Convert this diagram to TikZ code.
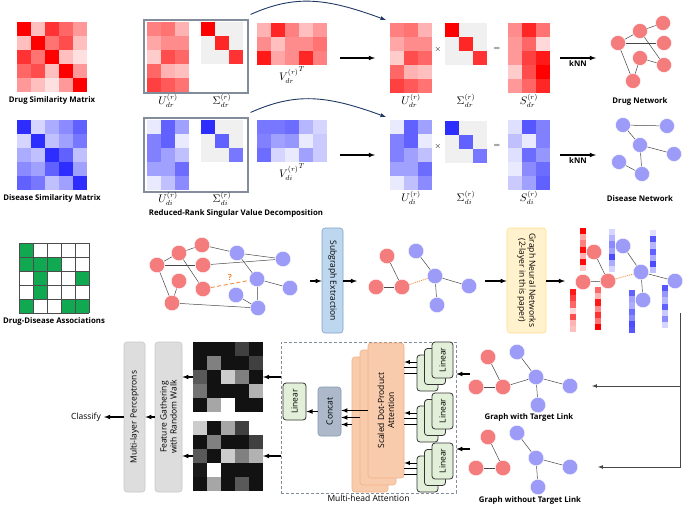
\documentclass[tikz,border=0pt]{standalone}
\usepackage{fontspec}
\setmainfont{Open Sans}
\usepackage{amsmath}
\usetikzlibrary{positioning}

\definecolor{nodered}{RGB}{244,124,124}
\definecolor{nodeblue}{RGB}{156,156,248}
\definecolor{hotred}{RGB}{255,0,0}
\definecolor{hotblue}{RGB}{45,45,255}
\definecolor{assocgreen}{RGB}{16,168,80}
\definecolor{edgegray}{RGB}{70,70,70}
\definecolor{linkorange}{RGB}{240,140,60}
\definecolor{navy}{RGB}{31,56,100}
\definecolor{framegray}{RGB}{130,140,155}
\definecolor{lingreen}{RGB}{226,240,217}
\definecolor{attfill}{RGB}{248,203,173}
\definecolor{attdraw}{RGB}{244,177,131}
\definecolor{catfill}{RGB}{173,185,202}
\definecolor{catdraw}{RGB}{132,151,176}
\definecolor{subfill}{RGB}{189,215,238}
\definecolor{subdraw}{RGB}{130,160,200}
\definecolor{gnnfill}{RGB}{255,242,204}
\definecolor{gnndraw}{RGB}{255,222,140}
\definecolor{panelfill}{RGB}{221,221,221}
\definecolor{paneldraw}{RGB}{200,200,200}

% name, x, y, cols, rows, cell w, cell h, colour, rows of values
\newcommand{\heatgrid}[9]{%
  \foreach \hrow [count=\ya from 0] in {#9} {
    \foreach \cv [count=\xa from 0] in \hrow {
      \fill[#8!\cv!white] ({#2+#6*\xa},{#3+#7*\ya}) rectangle ++(#6,#7);
    }
  }
  \node[mat, minimum width=#4*#6, minimum height=#5*#7, anchor=north west] (#1) at (#2,#3) {};
}
% name, x, y, colour, diagonal values
\newcommand{\sigmagrid}[5]{%
  \fill[black!6] (#2,#3) rectangle ++(42,42);
  \foreach \cv [count=\xa from 0] in {#5}
    \fill[#4!\cv!white] ({#2+14*\xa},{#3+14*\xa}) rectangle ++(14,14);
  \node[mat, minimum size=42, anchor=north west] (#1) at (#2,#3) {};
}

\begin{document}
\begin{tikzpicture}[x=1pt, y=-1pt, >=latex,
  mat/.style={inner sep=0pt, outer sep=0pt},
  caption/.style={font=\bfseries\fontsize{7.8}{9}\selectfont, inner sep=1pt},
  mlabel/.style={font=\fontsize{8.5}{10}\selectfont, inner sep=1pt},
  mathlabel/.style={font=\fontsize{10.5}{12}\selectfont, inner sep=0pt},
  drug/.style={circle, fill=nodered, draw=white, line width=0.4pt, inner sep=0pt, minimum size=15.5pt},
  dis/.style={drug, fill=nodeblue},
  netline/.style={edgegray, line width=0.5pt},
  targetlink/.style={linkorange, line width=0.9pt, dash pattern=on 4pt off 2.5pt},
  dotlink/.style={linkorange, line width=0.9pt, dash pattern=on 1pt off 1pt},
  bigarrow/.style={->, line width=1.1pt},
  thinarrow/.style={->, edgegray, line width=0.7pt},
  curvearrow/.style={->, navy, line width=0.9pt},
  svdframe/.style={draw=framegray, line width=1.1pt, inner sep=0pt, minimum width=104pt},
  block/.style={rounded corners=3pt, line width=0.6pt, inner sep=1pt, align=center, font=\fontsize{8.5}{10}\selectfont},
  linbox/.style={block, fill=lingreen, draw=black!80, line width=0.8pt, minimum width=36pt, minimum height=21pt, rotate=90},
  attbox/.style={block, fill=attfill, draw=attdraw, minimum width=135pt, minimum height=36pt, rotate=90},
  panel/.style={block, fill=panelfill, draw=paneldraw, rotate=90, minimum width=150pt}]
\useasboundingbox (0,0) rectangle (685,506);

\heatgrid{dsim}{17}{22}{5}{5}{14}{14}{hotred}{{100,25,80,60,40},{25,100,55,70,25},{80,55,100,25,12},{60,70,25,100,40},{40,25,12,40,100}}
\node[caption, below=3pt of dsim] (dsimcap) {Drug Similarity Matrix};
\heatgrid{disim}{17}{120}{5}{5}{14}{14}{hotblue}{{100,20,40,55,75},{20,100,30,45,65},{40,30,100,75,30},{55,45,75,100,45},{75,65,30,45,100}}
\node[caption, below=3pt of disim] (disimcap) {Disease Similarity Matrix};

% reduced-rank SVD, drug
\node[svdframe, minimum height=73pt] (svdr) at (196,56.5) {};
\heatgrid{udr}{147}{22}{3}{5}{14}{14}{hotred}{{50,55,30},{35,45,45},{20,70,60},{60,30,25},{75,65,55}}
\sigmagrid{sgdr}{201}{22}{hotred}{100,85,80}
\heatgrid{vdr}{257}{23}{5}{3}{14}{14}{hotred}{{30,85,50,25,40},{45,25,45,45,55},{90,35,45,85,50}}
\heatgrid{udrb}{390}{23}{3}{5}{14}{14}{hotred}{{50,55,30},{35,45,45},{20,70,60},{60,30,25},{75,65,55}}
\sigmagrid{sgdrb}{445}{23}{hotred}{100,85,80}
\heatgrid{sdr}{508}{23}{3}{5}{14}{14}{hotred}{{45,85,55},{40,60,15},{40,75,90},{20,70,100},{40,60,85}}
\node[mathlabel, below=2pt of udr] {$U_{dr}^{(r)}$};
\node[mathlabel, below=30pt of sgdr] {$\Sigma_{dr}^{(r)}$};
\node[mathlabel, below=2pt of vdr] {${V_{dr}^{(r)}}^{T}$};
\node[mathlabel, below=1pt of udrb] {$U_{dr}^{(r)}$};
\node[mathlabel, below=29pt of sgdrb] {$\Sigma_{dr}^{(r)}$};
\node[mathlabel, below=1pt of sdr] {$S_{dr}^{(r)}$};
\node[mlabel] (xdr) at (438,49) {$\times$};
\node[mlabel] (edr) at (497,49) {$=$};
\draw[curvearrow] ([xshift=2pt,yshift=5pt]svdr.north east) .. controls +(45pt,20pt) and +(-60pt,22pt) .. ([xshift=-4pt,yshift=3pt]udrb.north west);
\draw[bigarrow] ([xshift=-50pt]udrb.west) -- ([xshift=-15pt]udrb.west);
\draw[bigarrow] ([xshift=10pt]sdr.east) -- ([xshift=46pt]sdr.east) node[caption, midway, below=1pt] {kNN};

% reduced-rank SVD, disease
\node[svdframe, minimum height=74pt] (svdi) at (196,155) {};
\heatgrid{udi}{147}{120}{3}{5}{14}{14}{hotblue}{{10,75,45},{60,75,10},{60,45,30},{45,45,70},{10,30,55}}
\sigmagrid{sgdi}{201}{120}{hotblue}{100,75,65}
\heatgrid{vdi}{257}{120}{5}{3}{14}{14}{hotblue}{{65,65,70,35,20},{60,45,50,10,25},{70,20,10,45,25}}
\heatgrid{udib}{390}{120}{3}{5}{14}{14}{hotblue}{{10,75,45},{60,75,10},{60,45,30},{45,45,70},{10,30,55}}
\sigmagrid{sgdib}{445}{121}{hotblue}{100,75,65}
\heatgrid{sdi}{508}{120}{3}{5}{14}{14}{hotblue}{{15,80,60},{30,10,60},{15,70,50},{10,55,70},{25,45,75}}
\node[mathlabel, below=2pt of udi] {$U_{di}^{(r)}$};
\node[mathlabel, below=30pt of sgdi] {$\Sigma_{di}^{(r)}$};
\node[mathlabel, below=2pt of vdi] {${V_{di}^{(r)}}^{T}$};
\node[mathlabel, below=1pt of udib] {$U_{di}^{(r)}$};
\node[mathlabel, below=28pt of sgdib] {$\Sigma_{di}^{(r)}$};
\node[mathlabel, below=1pt of sdi] {$S_{di}^{(r)}$};
\node[mlabel] (xdi) at (438,146) {$\times$};
\node[mlabel] (edi) at (497,146) {$=$};
\draw[curvearrow] ([xshift=2pt,yshift=5pt]svdi.north east) .. controls +(45pt,20pt) and +(-60pt,22pt) .. ([xshift=-4pt,yshift=3pt]udib.north west);
\draw[bigarrow] ([xshift=-50pt]udib.west) -- ([xshift=-15pt]udib.west);
\draw[bigarrow] ([xshift=10pt]sdi.east) -- ([xshift=46pt]sdi.east) node[caption, midway, below=1pt] {kNN};
\node[caption] (svdcap) at (236,213) {Reduced-Rank Singular Value Decomposition};

% networks from kNN
\foreach \n/\x/\y in {d1/618/43,d2/640/31,d3/663/23,d4/664/43,d5/640/58,d6/664/65,d7/633/81}
  \node[drug, minimum size=15pt] (\n) at (\x,\y) {};
\foreach \a/\b in {d1/d2,d2/d3,d1/d4,d2/d6,d5/d6,d1/d7,d5/d7}
  \draw[netline] (\a) -- (\b);
\node[caption] (drugcap) at (640,101) {Drug Network};
\foreach \n/\x/\y in {e1/623/125,e2/667/126,e3/640/145,e4/674/154,e5/619/162,e6/642/174}
  \node[dis, minimum size=15pt] (\n) at (\x,\y) {};
\foreach \a/\b in {e1/e2,e1/e3,e3/e4,e3/e6,e5/e6}
  \draw[netline] (\a) -- (\b);
\node[caption] (discap) at (640,199) {Disease Network};

% associations
\foreach \xa/\ya in {0/0,0/1,1/1,2/1,1/2,4/2,1/3,0/4,3/4,4/4}
  \fill[assocgreen] (19+14*\xa,243+14*\ya) rectangle ++(14,14);
\foreach \xa in {0,...,5} {
  \draw[black!70, line width=0.5pt] (19+14*\xa,243) -- (19+14*\xa,313);
  \draw[black!70, line width=0.5pt] (19,243+14*\xa) -- (89,243+14*\xa);
}
\node[mat, minimum size=70, anchor=north west] (assoc) at (19,243) {};
\node[caption, below=3pt of assoc] (assoccap) {Drug-Disease Associations};

% heterogeneous graph
\foreach \n/\x/\y in {ar1/157/265,ar2/179/253,ar3/202/245,ar4/203/265,ar5/179/281,ar6/203/289,ar7/172/303}
  \node[drug] (\n) at (\x,\y) {};
\foreach \n/\x/\y in {ab1/237/253,ab2/283/259,ab3/257/279,ab4/290/288,ab5/236/295,ab6/258/308}
  \node[dis] (\n) at (\x,\y) {};
\foreach \a/\b in {ar1/ar2,ar2/ar3,ar1/ar4,ar2/ar6,ar3/ab1,ab1/ab2,ar4/ab2,ab1/ab3,ar1/ar7,ar5/ar7,ab3/ab4,ab3/ab6,ab5/ab6,ar7/ab6}
  \draw[netline] (\a) -- (\b);
\draw[targetlink] (ar6) -- (ab3) node[midway, above=3pt, text=linkorange, font=\bfseries\fontsize{8.5}{9}\selectfont, inner sep=0pt] {?};

\node[block, fill=subfill, draw=subdraw, rotate=-90, minimum width=105pt, minimum height=21pt] (sub) at (332.5,280.5) {Subgraph Extraction};
\coordinate (bigout) at (310,281);
\draw[bigarrow] (bigout) -- (bigout -| sub.south);
\coordinate (subout) at (357,281);
\draw[bigarrow] (subout -| sub.north) -- (subout);

% enclosing subgraph
\foreach \n/\x/\y in {sr1/387/256,sr2/376/287,sr3/402/287}
  \node[drug] (\n) at (\x,\y) {};
\foreach \n/\x/\y in {sb1/416/251,sb2/435/276,sb3/469/286,sb4/437/305}
  \node[dis] (\n) at (\x,\y) {};
\foreach \a/\b in {sr1/sr3,sr2/sr3,sb1/sb2,sb2/sb3,sb2/sb4}
  \draw[netline] (\a) -- (\b);
\draw[dotlink] (sr3) -- (sb2);

\node[block, fill=gnnfill, draw=gnndraw, rotate=-90, minimum width=105pt, minimum height=39pt] (gnn) at (526.5,280.5) {Graph Neural Networks\\(2-layer in this paper)};
\coordinate (gnnin) at (485,281);
\draw[bigarrow] (gnnin) -- (gnnin -| gnn.south);
\coordinate (gnnout) at (565,281);
\draw[bigarrow] (gnnout -| gnn.north) -- (gnnout);

% node embeddings
\heatgrid{fr1}{580}{228}{1}{7}{6}{6.2}{hotred}{100,35,50,95,30,95,20}
\heatgrid{fr2}{570}{289}{1}{7}{6}{6.2}{hotred}{90,75,60,15,70,30,25}
\heatgrid{fr3}{595}{287}{1}{7}{6}{6.2}{hotred}{60,30,90,45,80,55,100}
\heatgrid{fb1}{609}{229}{1}{7}{6}{6.2}{hotblue}{20,35,55,45,85,40,20}
\heatgrid{fb2}{650}{230}{1}{7}{6}{6.2}{hotblue}{15,80,35,75,40,85,30}
\heatgrid{fb3}{629}{290}{1}{7}{6}{6.2}{hotblue}{75,45,40,70,55,85,80}
\heatgrid{fb4}{662}{285}{1}{7}{6}{6.2}{hotblue}{80,50,35,75,25,55,20}
\foreach \n/\x/\y in {or1/594/252,or2/583/282,or3/608/281}
  \node[drug] (\n) at (\x,\y) {};
\foreach \n/\x/\y in {ob1/623/246,ob2/641/272,ob3/675/281,ob4/643/300}
  \node[dis] (\n) at (\x,\y) {};
\foreach \a/\b in {or1/or3,or2/or3,ob1/ob2,ob2/ob3,ob2/ob4}
  \draw[netline] (\a) -- (\b);
\draw[dotlink] (or3) -- (ob2);

% graphs with and without the target link
\foreach \n/\x/\y in {gr1/488/357,gr2/476/387,gr3/503/387,hr1/488/437,hr2/476/468,hr3/503/468}
  \node[drug] (\n) at (\x,\y) {};
\foreach \n/\x/\y in {gb1/517/352,gb2/536/377,gb3/570/386,gb4/538/405,hb1/517/433,hb2/536/458,hb3/570/467,hb4/538/487}
  \node[dis] (\n) at (\x,\y) {};
\foreach \a/\b in {gr1/gr3,gr2/gr3,gr3/gb2,gb1/gb2,gb2/gb3,gb2/gb4,hr1/hr3,hr2/hr3,hb1/hb2,hb2/hb3,hb2/hb4}
  \draw[netline] (\a) -- (\b);
\node[caption] (gcap) at (529,417) {Graph with Target Link};
\node[caption] (hcap) at (530,500) {Graph without Target Link};
\coordinate (split) at (680,313);
\draw[thinarrow] (split) |- ([xshift=14pt]gb3.east);
\draw[thinarrow] (split) |- ([xshift=20pt]hb3.east);

% multi-head attention
\node[draw=framegray, densely dashed, line width=0.5pt, minimum width=175pt, minimum height=151pt] (mha) at (368.5,417.5) {};
\node[mlabel, below=1pt of mha] (mhacap) {Multi-head Attention};
\node[attbox] (att3) at (370,424.5) {};
\node[attbox] (att2) at (378,417.5) {};
\node[attbox] (att1) at (386,410.5) {Scaled Dot-Product\\Attention};
\foreach \yk [count=\sk] in {360,411,461} {
  \node[linbox] (lin\sk c) at (427.5,\yk+13) {};
  \node[linbox] (lin\sk b) at (435,\yk+6.5) {};
  \node[linbox] (lin\sk a) at (442.5,\yk) {Linear};
  \foreach \dy/\tip in {2/->,7/-,13/-} {
    \coordinate (tap) at (417,\yk+\dy);
    \draw[\tip, line width=0.9pt] (tap) -- (tap -| att1.south);
  }
}
\coordinate (ina) at (470,374);
\draw[bigarrow] (ina) -- (ina -| mha.east);
\coordinate (inb) at (470,449);
\draw[bigarrow] (inb) -- (inb -| mha.east);
\node[block, fill=catfill, draw=catdraw, rotate=90, minimum width=49pt, minimum height=23pt] (concat) at (329.5,411.5) {Concat};
\foreach \ab in {att1,att2,att3}
  \draw[bigarrow] (\ab.north) -- (\ab.north -| concat.south);
\node[linbox, minimum width=37pt, minimum height=23pt] (linf) at (294.5,401.5) {Linear};
\draw[bigarrow] (concat.north) -- (concat.north -| linf.south);

% random walk features and classifier
\heatgrid{gtop}{193}{342}{5}{5}{14}{14}{black}{{93,93,93,75,93},{93,50,93,93,75},{65,93,20,50,93},{55,93,93,93,30},{93,35,0,93,93}}
\heatgrid{gbot}{193}{421}{5}{5}{14}{14}{black}{{20,93,35,75,0},{93,50,93,93,75},{65,93,20,50,30},{90,0,93,93,93},{93,35,93,65,93}}
\draw[bigarrow] (gtop.east -| mha.west) -- (gtop.east);
\draw[bigarrow] (gbot.east -| mha.west) -- (gbot.east);
\node[panel, minimum height=27pt] (feat) at (168.5,417) {Feature Gathering\\with Random Walk};
\node[panel, minimum height=21pt] (mlp) at (134.5,417) {Multi-layer Perceptrons};
\draw[bigarrow] (gtop.west) -- (gtop.west -| feat.south);
\draw[bigarrow] (gbot.west) -- (gbot.west -| feat.south);
\draw[bigarrow] (feat.north) -- (feat.north -| mlp.south);
\node[mlabel, inner sep=3pt] (classify) at (86,417) {Classify};
\draw[bigarrow] (mlp.north) -- (classify.east);
\end{tikzpicture}
\end{document}
